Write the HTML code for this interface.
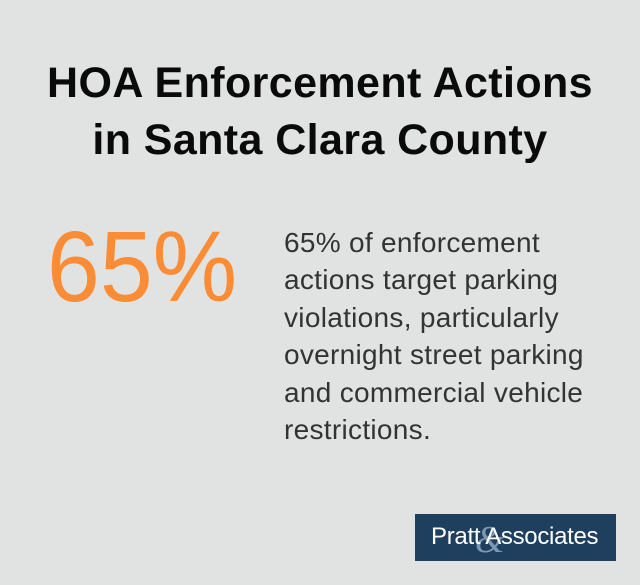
<!DOCTYPE html>
<html>
<head>
<meta charset="utf-8">
<style>
  html, body { margin:0; padding:0; }
  body {
    width:640px; height:585px; overflow:hidden;
    background:#e1e3e2; position:relative;
    font-family:"Liberation Sans", sans-serif;
  }
  .title {
    position:absolute; left:0; top:55px; width:640px;
    text-align:center; font-weight:bold; font-size:43px; line-height:57px;
    letter-spacing:0.4px; color:#0a0a0a; white-space:nowrap;
  }
  .big {
    position:absolute; left:47px; top:217px;
    font-size:100px; line-height:100px; color:#fb8c36;
    white-space:nowrap; transform:scaleX(0.95); transform-origin:0 0;
  }
  .body {
    position:absolute; left:284px; top:223.5px;
    font-size:28px; line-height:37.5px; color:#333333;
    letter-spacing:0.3px; white-space:nowrap;
  }
  .logo {
    position:absolute; left:415px; top:514px; width:201px; height:47px;
    background:#1e3f5e;
  }
  .amp {
    position:absolute; left:60px; top:4px;
    font-family:"Liberation Serif", serif; font-style:italic;
    font-size:38px; line-height:44px; color:#7f98b2;
  }
  .logotext {
    position:absolute; left:16px; top:8px;
    font-size:24px; line-height:30px; color:#ffffff;
    letter-spacing:-0.3px; white-space:nowrap;
  }
</style>
</head>
<body>
  <div class="title">HOA Enforcement Actions<br>in Santa Clara County</div>
  <div class="big">65%</div>
  <div class="body">65% of enforcement<br>actions target parking<br>violations, particularly<br>overnight street parking<br>and commercial vehicle<br>restrictions.</div>
  <div class="logo">
    <div class="amp">&amp;</div>
    <div class="logotext">Pratt<span style="display:inline-block;width:5px"></span>Associates</div>
  </div>
</body>
</html>
